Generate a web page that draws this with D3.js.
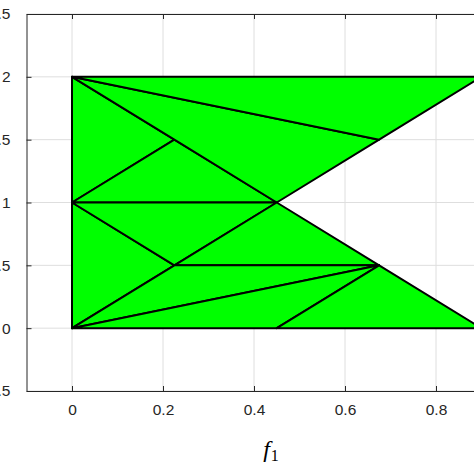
<!DOCTYPE html>
<html>
<head>
<meta charset="utf-8">
<script src="https://cdn.jsdelivr.net/npm/d3@7"></script>
<style>
  html, body { margin:0; padding:0; background:#fff; overflow:hidden; }
  svg { display:block; }
  .tick text { font-family: "Liberation Sans", Arial, sans-serif; font-size:15.5px; fill:#262626; }
</style>
</head>
<body>
<div id="chart"></div>
<script>
// mesh nodes (f1, f2)
const nodeX = [0,   0.45, 0.9, 0.225, 0.675, 0, 0.45, 0.225, 0.675, 0, 0.9];
const nodeY = [0,   0,    0,   0.5,   0.5,   1, 1,    1.5,   1.5,   2, 2];
// elements as node index lists (A=0 B=1 C=2 D=3 E=4 F=5 G=6 H=7 I=8 J=9 K=10)
const elements = [
  [9,5,7], [5,6,7], [9,7,6,8], [9,8,10],
  [0,5,3], [5,6,3], [3,6,4], [0,3,4], [0,4,1], [1,4,2]
];
const xTicks = [0, 0.2, 0.4, 0.6, 0.8, 1];
const yTicks = [-0.5, 0, 0.5, 1, 1.5, 2, 2.5];
const xLabel = "f";
const xLabelSub = "1";

const W = 474, H = 474;
const svg = d3.select('#chart').append('svg').attr('width', W).attr('height', H);

const x = d3.scaleLinear().domain([-0.1, 1]).range([26.5, 527]);
const y = d3.scaleLinear().domain([-0.5, 2.5]).range([391, 14]);
const axisCol = '#262626';

// grid
const grid = svg.append('g');
grid.selectAll('line.gx').data(xTicks).enter().append('line')
  .attr('x1', d=>x(d)).attr('x2', d=>x(d)).attr('y1', y(-0.5)).attr('y2', y(2.5))
  .attr('stroke', '#dedede').attr('stroke-width', 1);
grid.selectAll('line.gy').data(yTicks).enter().append('line')
  .attr('y1', d=>y(d)).attr('y2', d=>y(d)).attr('x1', x(-0.1)).attr('x2', x(1))
  .attr('stroke', '#dedede').attr('stroke-width', 1);

// mesh
const pts = i => [x(nodeX[i]), y(nodeY[i])];
svg.append('g').selectAll('path').data(elements).enter().append('path')
  .attr('d', d => 'M' + d.map(i => pts(i).join(',')).join('L') + 'Z')
  .attr('fill', '#00ff00')
  .attr('stroke', '#000')
  .attr('stroke-width', 2)
  .attr('stroke-linejoin', 'round');

// axes (box with inward ticks)
const fmt = d => d3.format('')(d);
svg.append('g').attr('transform', `translate(0,${y(-0.5)})`)
  .call(d3.axisBottom(x).tickValues(xTicks).tickFormat(fmt).tickSizeInner(-5).tickSizeOuter(0).tickPadding(13))
  .call(g => { g.select('.domain').attr('stroke', axisCol); g.selectAll('.tick line').attr('stroke', axisCol); });
svg.append('g').attr('transform', `translate(0,${y(2.5)})`)
  .call(d3.axisTop(x).tickValues(xTicks).tickFormat('').tickSizeInner(-5).tickSizeOuter(0))
  .call(g => { g.select('.domain').attr('stroke', axisCol); g.selectAll('.tick line').attr('stroke', axisCol); });
svg.append('g').attr('transform', `translate(${x(-0.1)},0)`)
  .call(d3.axisLeft(y).tickValues(yTicks).tickFormat(fmt).tickSizeInner(-5).tickSizeOuter(0).tickPadding(16))
  .call(g => { g.select('.domain').attr('stroke', axisCol); g.selectAll('.tick line').attr('stroke', axisCol); });

// x label
const lab = svg.append('text')
  .attr('x', 271).attr('y', 457)
  .attr('text-anchor', 'middle')
  .attr('font-family', '"Liberation Serif", "DejaVu Serif", serif')
  .attr('font-size', 24)
  .attr('fill', '#000');
lab.append('tspan').attr('font-style', 'italic').text(xLabel);
lab.append('tspan').attr('font-size', 16).attr('dy', 4).attr('dx', 1).text(xLabelSub);
</script>
</body>
</html>
